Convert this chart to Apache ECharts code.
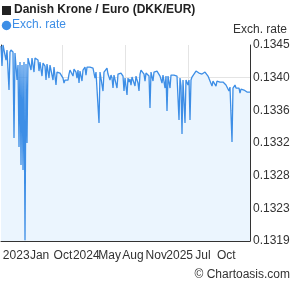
<!DOCTYPE html>
<html>
<head>
<meta charset="utf-8">
<script src="https://cdn.jsdelivr.net/npm/echarts@6/dist/echarts.min.js"></script>
<style>
  html, body { margin: 0; padding: 0; background: #fff; }
  #chart { width: 295px; height: 288px; }
</style>
</head>
<body>
<div id="chart"></div>
<script>
// DKK/EUR daily rate
const rates = [
  0.134447, 0.134186, 0.134460, 0.134473, 0.134434, 0.134264, 0.134395, 0.134134, 0.133874, 0.134368,
  0.134395, 0.134382, 0.134368, 0.133250, 0.134355, 0.134329, 0.134004, 0.134199, 0.133133, 0.134238,
  0.132898, 0.134199, 0.132834, 0.134238, 0.131920, 0.134212, 0.133185, 0.134290, 0.134316, 0.134303,
  0.134134, 0.134290, 0.134264, 0.134108, 0.134290, 0.134303, 0.134290, 0.134264, 0.134121, 0.134238,
  0.134225, 0.134056, 0.134225, 0.134212, 0.134186, 0.134004, 0.134212, 0.134225, 0.134030, 0.134199,
  0.134199, 0.134186, 0.134004, 0.134173, 0.134160, 0.133939, 0.134108, 0.134134, 0.134108, 0.134095,
  0.134121, 0.134108, 0.134030, 0.133965, 0.134004, 0.133978, 0.134017, 0.134004, 0.134082, 0.134134,
  0.134160, 0.134134, 0.134056, 0.134147, 0.134134, 0.134108, 0.134030, 0.134134, 0.133965, 0.134121,
  0.134134, 0.133991, 0.134134, 0.134147, 0.134173, 0.134069, 0.134173, 0.134173, 0.134186, 0.134173,
  0.134186, 0.134173, 0.134160, 0.134134, 0.134030, 0.134108, 0.134121, 0.134095, 0.133445, 0.134108,
  0.134082, 0.134095, 0.133861, 0.134108, 0.134121, 0.134134, 0.134160, 0.134082, 0.134056, 0.134004,
  0.134069, 0.134030, 0.133900, 0.134069, 0.134056, 0.134082, 0.133900, 0.134082, 0.134095, 0.134082,
  0.134095, 0.134082, 0.134056, 0.133861, 0.134030, 0.134004, 0.133809, 0.134030, 0.133978, 0.134017,
  0.133939, 0.134043, 0.134056, 0.134030, 0.133926, 0.134056, 0.134004, 0.133965, 0.133861, 0.134082,
  0.134134, 0.134160, 0.134108, 0.134082, 0.133991, 0.134095, 0.134082, 0.134095, 0.134056, 0.133640,
  0.134108, 0.134095, 0.133991, 0.134108, 0.134095, 0.134108, 0.134121, 0.134095, 0.134108, 0.134056,
  0.134069, 0.133965, 0.134069, 0.134056, 0.133900, 0.134056, 0.133601, 0.134056, 0.134030, 0.133900,
  0.134069, 0.134082, 0.134082, 0.134069, 0.134082, 0.134069, 0.134056, 0.134056, 0.133484, 0.134030,
  0.133926, 0.133302, 0.134004, 0.134017, 0.133445, 0.134004, 0.133991, 0.133939, 0.134004, 0.133484,
  0.134004, 0.134043, 0.134069, 0.134082, 0.134082, 0.134121, 0.134095, 0.134108, 0.134095, 0.134082,
  0.134095, 0.134082, 0.134082, 0.134095, 0.134108, 0.134121, 0.134082, 0.134056, 0.134030, 0.133991,
  0.134004, 0.133926, 0.133991, 0.133978, 0.134004, 0.133926, 0.133991, 0.134004, 0.133991, 0.133978,
  0.133991, 0.133978, 0.133978, 0.133965, 0.133952, 0.133939, 0.133926, 0.133926, 0.133861, 0.133913,
  0.133900, 0.133198, 0.133900, 0.133913, 0.133939, 0.133900, 0.133913, 0.133887, 0.133900, 0.133835,
  0.133887, 0.133887, 0.133900, 0.133874, 0.133861, 0.133874, 0.133848, 0.133861, 0.133848, 0.133848,
]
const days = rates.map((_, i) => i)
const gridDays = [61, 124, 187]   // where the vertical grid lines fall
const xLabels = ['2023', 'Jan', 'Oct', '2024', 'May', 'Aug', 'Nov', '2025', 'Jul', 'Oct']
const yMin = 0.13191
const yMax = 0.13446
const yStep = 0.000425

const font = '"Liberation Sans", Arial, sans-serif'
const chart = echarts.init(document.getElementById('chart'), null, { renderer: 'canvas' })

const option = {
  animation: false,
  textStyle: { fontFamily: font },
  grid: [
    { left: 1, right: 45, top: 45, bottom: 47 },
    { left: 2, width: 236, top: 244, height: 1 },
  ],
  xAxis: [
    {
      type: 'category',
      gridIndex: 0,
      data: days,
      boundaryGap: false,
      axisLine: { lineStyle: { color: '#333', width: 1 } },
      axisTick: { show: false },
      axisLabel: { show: false },
      splitLine: {
        show: true,
        interval: (i) => gridDays.includes(i),
        lineStyle: { color: '#e4e4e4', width: 1 },
      },
    },
    {
      type: 'category',
      gridIndex: 1,
      data: xLabels,
      axisLine: { show: false },
      axisTick: { show: false },
      axisLabel: { interval: 0, margin: 5, fontSize: 12, color: '#333', fontFamily: font },
    },
  ],
  yAxis: [
    {
      type: 'value',
      gridIndex: 0,
      position: 'right',
      min: yMin,
      max: yMax,
      interval: yStep,
      axisLine: { show: true, lineStyle: { color: '#333', width: 1 } },
      axisTick: { show: false },
      axisLabel: {
        margin: 3,
        fontSize: 12,
        color: '#333',
        fontFamily: font,
        formatter: (v) => v.toFixed(4),
      },
      splitLine: {
        show: true,
        lineStyle: {
          color: ['#e4e4e4', '#e4e4e4', '#e4e4e4', '#e4e4e4', '#e4e4e4', '#e4e4e4', 'rgba(0,0,0,0)'],
          width: 1,
        },
      },
    },
    {
      type: 'value',
      gridIndex: 0,
      position: 'left',
      min: yMin,
      max: yMax,
      interval: yStep,
      axisLine: { show: true, lineStyle: { color: '#333', width: 1 } },
      axisTick: { show: false },
      axisLabel: { show: false },
      splitLine: { show: false },
    },
    {
      type: 'value',
      gridIndex: 1,
      show: false,
    },
  ],
  series: [
    {
      name: 'Exch. rate',
      type: 'line',
      xAxisIndex: 0,
      yAxisIndex: 0,
      data: rates,
      showSymbol: false,
      lineStyle: { color: '#3d8ee6', width: 1.3 },
      areaStyle: { color: '#ebf5fe', opacity: 1, origin: 'start' },
    },
  ],
  graphic: [
    { type: 'rect', left: 2, top: 6, shape: { width: 9, height: 9 }, style: { fill: '#222' } },
    {
      type: 'text', left: 14, top: 4,
      style: { text: 'Danish Krone / Euro (DKK/EUR)', font: 'bold 12px ' + font, fill: '#222' },
    },
    { type: 'circle', shape: { cx: 6.5, cy: 25.5, r: 4.7 }, style: { fill: '#3d8ee6' } },
    {
      type: 'text', left: 12, top: 19,
      style: { text: 'Exch. rate', font: '12px ' + font, fill: '#3d8ee6' },
    },
    {
      type: 'text', right: 8, top: 24,
      style: { text: 'Exch. rate', font: '12px ' + font, fill: '#333' },
    },
    {
      type: 'text', right: 5, top: 269,
      style: { text: '© Chartoasis.com', font: '12px ' + font, fill: '#333' },
    },
  ],
}

chart.setOption(option)
</script>
</body>
</html>
